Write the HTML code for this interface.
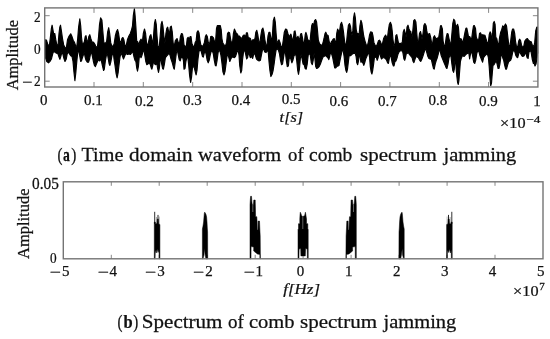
<!DOCTYPE html>
<html><head><meta charset="utf-8"><title>Comb spectrum jamming</title>
<style>html,body{margin:0;padding:0;background:#fff;}svg{display:block;}text{font-family:"Liberation Serif",serif;fill:#111;stroke:#111;stroke-width:0.25px;}</style></head><body>
<svg width="550" height="339" viewBox="0 0 550 339">
<rect width="550" height="339" fill="#fff"/>
<path d="M94.0,7.9v5M94.0,87.0v-5M143.3,7.9v5M143.3,87.0v-5M192.7,7.9v5M192.7,87.0v-5M242.0,7.9v5M242.0,87.0v-5M291.3,7.9v5M291.3,87.0v-5M340.6,7.9v5M340.6,87.0v-5M389.9,7.9v5M389.9,87.0v-5M439.3,7.9v5M439.3,87.0v-5M488.6,7.9v5M488.6,87.0v-5M44.7,15.7h5M537.9,15.7h-5M44.7,48.5h5M537.9,48.5h-5M44.7,81.2h5M537.9,81.2h-5" stroke="#7a7a7a" stroke-width="0.9" fill="none"/>
<polygon points="44.6,39.8 46.5,40.1 47.8,44.3 49.3,46.2 50.6,35.4 51.4,28.4 52.1,25.2 52.9,29.6 53.7,34.1 54.8,33.5 55.7,39.2 56.7,44.3 58.0,45.5 59.0,33.5 59.8,27.1 60.5,25.2 61.4,30.9 62.5,38.5 63.7,44.9 65.0,47.5 66.3,48.1 67.5,39.8 68.8,36.6 70.7,33.8 72.0,36.6 73.3,40.5 74.5,42.4 75.8,46.2 76.8,46.2 77.7,38.5 78.6,27.1 79.8,18.8 80.7,25.8 81.5,37.3 82.4,44.3 83.5,43.6 84.5,41.1 85.2,36.6 86.0,35.7 86.9,40.5 87.9,41.7 88.8,36.6 89.8,34.7 90.8,38.5 91.9,41.7 93.6,42.4 94.9,44.3 96.2,47.5 97.5,46.2 98.5,37.3 99.5,24.5 100.6,17.9 101.9,20.1 102.8,30.9 103.8,42.4 105.1,43.6 106.6,41.7 107.6,32.2 108.7,27.7 109.7,33.5 110.7,42.4 112.1,47.5 113.4,44.9 114.0,44.9 115.3,36.0 116.5,31.5 117.6,29.6 118.6,33.5 119.7,41.1 121.0,42.4 121.9,38.5 122.9,37.5 123.9,39.8 124.8,44.9 126.1,46.2 127.4,39.8 128.6,36.6 130.3,33.5 131.6,29.6 132.5,25.8 133.3,15.6 134.4,8.6 135.1,15.6 135.9,27.1 136.7,41.1 137.7,41.7 138.8,44.9 140.1,40.5 141.1,39.2 142.3,42.4 143.3,33.5 144.5,29.0 145.6,33.5 146.6,43.6 147.7,45.5 149.0,39.8 149.9,36.0 150.9,34.7 151.9,39.8 152.9,44.9 153.7,33.5 154.5,23.3 155.4,19.5 156.3,24.5 157.0,36.0 157.9,46.2 159.2,47.5 160.1,37.3 161.1,24.5 162.0,21.4 162.9,25.8 163.9,36.0 164.9,43.6 165.9,33.5 166.8,28.4 167.7,27.1 168.7,32.2 169.6,32.8 170.3,27.1 171.3,26.1 172.3,32.2 173.2,43.6 174.5,44.9 175.3,40.5 177.0,38.5 178.3,42.4 179.5,43.6 180.4,36.6 181.5,33.5 182.5,34.1 183.4,38.5 184.0,44.9 185.3,46.2 186.3,46.8 187.2,38.5 188.1,37.3 189.1,39.8 190.1,36.6 191.0,36.6 191.9,43.6 193.2,46.2 194.2,46.8 195.2,42.4 196.1,41.1 197.0,32.2 198.0,30.7 199.0,32.8 199.9,39.8 200.8,44.9 202.1,46.2 203.3,45.5 204.4,42.4 205.4,36.6 206.3,34.7 207.3,36.6 208.2,41.7 209.2,44.9 210.1,41.1 210.7,36.6 212.0,36.3 213.5,37.9 214.5,41.7 215.6,41.1 216.5,28.4 217.3,25.6 220.3,25.6 221.2,29.6 221.9,38.5 222.8,43.0 224.1,44.9 225.4,46.2 226.6,42.4 227.5,33.5 228.5,32.2 229.6,32.8 230.5,38.5 231.3,42.4 232.6,41.7 233.4,33.5 234.4,29.0 235.5,31.5 236.4,33.5 237.5,34.1 238.5,36.6 239.5,36.0 240.6,37.9 241.9,38.3 243.2,35.4 244.5,35.0 245.5,37.9 246.4,32.8 247.4,32.8 248.3,37.9 249.5,37.9 250.4,38.5 251.5,42.4 252.7,39.8 254.0,39.8 255.0,38.5 255.8,32.2 256.8,30.3 257.8,34.7 258.8,41.7 259.9,42.4 261.0,34.7 261.9,29.6 262.9,28.1 263.9,32.2 264.9,39.8 266.1,46.2 267.0,44.9 268.0,36.0 269.0,32.2 269.9,32.2 270.8,37.9 271.6,42.4 272.5,33.5 273.3,20.7 274.4,17.2 275.3,22.0 276.1,33.5 276.9,42.4 277.9,41.7 278.9,39.8 280.0,42.4 281.0,46.2 282.3,46.8 283.3,39.8 284.3,32.2 285.6,29.0 286.8,29.6 287.9,33.5 289.0,36.6 290.0,35.4 290.9,34.1 291.8,37.3 292.6,42.4 293.5,37.3 294.2,31.5 295.0,30.9 295.7,34.7 296.5,41.1 297.3,37.3 298.0,36.3 299.1,39.8 299.8,38.5 300.6,34.1 301.6,33.5 302.6,38.5 303.4,43.6 304.4,42.4 305.2,34.7 305.9,32.4 306.9,35.4 307.7,39.8 309.0,40.5 310.0,42.4 310.8,33.5 311.7,25.8 312.5,23.5 313.6,25.2 314.6,20.7 315.6,19.5 316.6,22.0 317.4,29.6 318.3,39.8 319.5,43.6 321.2,45.5 322.5,44.3 323.4,41.1 324.0,38.5 325.0,33.5 325.8,32.2 326.8,34.7 328.1,35.4 329.1,41.1 330.1,44.9 331.4,41.7 332.3,40.5 333.2,39.2 334.2,38.5 335.2,42.4 336.1,41.1 336.7,33.5 337.6,29.0 338.6,30.9 339.5,31.5 340.5,24.5 341.6,22.3 342.6,25.8 343.5,32.2 344.4,39.8 345.4,45.5 346.4,43.6 347.4,33.5 348.4,25.2 349.5,23.5 350.5,26.5 351.2,32.2 352.0,35.4 352.8,30.9 353.5,18.2 354.5,12.8 355.4,18.2 356.2,29.6 357.1,33.5 358.1,33.5 359.0,36.0 359.9,25.8 360.9,20.3 361.9,23.3 362.8,29.6 363.7,36.0 365.0,41.1 366.3,44.9 367.5,45.5 368.5,41.1 369.6,34.7 370.6,31.9 372.1,32.2 373.0,36.0 373.9,42.4 375.2,45.5 376.4,46.2 377.5,43.6 378.5,40.8 379.5,40.1 380.5,41.7 381.5,44.9 382.5,43.6 383.6,38.5 384.6,36.6 385.6,35.0 386.6,37.3 387.4,38.5 388.3,30.9 389.3,24.5 390.4,22.3 391.5,25.2 392.2,30.9 393.0,39.8 394.0,46.2 395.0,43.6 395.9,35.4 396.8,34.7 397.6,38.5 398.5,43.0 399.7,43.6 401.0,43.4 402.3,42.4 403.2,32.2 404.2,29.4 405.2,32.8 406.1,37.3 407.0,27.1 408.0,25.2 409.0,29.0 409.9,30.9 410.8,31.5 411.8,38.5 412.8,30.9 413.7,20.7 414.7,19.5 415.9,22.0 416.7,32.2 417.5,41.1 418.4,43.0 419.5,33.5 420.5,31.5 421.4,35.4 422.0,39.2 423.0,33.5 423.9,25.2 424.9,23.5 426.1,25.8 426.8,30.9 427.7,35.4 428.6,34.1 429.6,33.5 430.7,37.3 431.5,42.4 432.4,44.9 433.5,37.3 434.5,35.7 435.5,37.9 436.5,39.2 437.5,37.9 438.5,38.5 439.6,32.2 440.5,25.8 441.3,25.6 442.4,29.0 443.1,41.1 444.1,46.2 445.2,44.9 446.2,37.3 447.2,33.5 448.1,34.1 449.0,38.5 450.0,43.0 451.0,43.6 451.9,33.5 452.8,23.3 453.8,19.2 454.8,20.7 455.7,27.1 456.6,25.8 457.6,24.3 458.4,27.1 459.2,37.3 459.9,39.8 460.8,38.5 461.7,39.8 462.7,43.6 464.0,37.3 465.0,32.2 465.9,28.4 466.8,28.1 467.8,32.8 468.6,37.3 469.7,36.6 470.6,38.5 471.6,39.2 472.7,30.9 473.5,25.8 474.4,25.6 475.5,28.4 476.3,37.3 477.4,39.8 478.6,40.5 479.5,33.5 480.5,32.8 481.6,35.4 482.6,34.7 483.7,35.0 485.0,35.4 485.9,38.5 486.9,41.7 488.2,43.6 489.2,34.7 490.1,31.9 491.0,33.5 491.7,42.4 492.6,33.5 493.3,23.3 494.2,21.4 495.1,24.5 495.8,37.3 496.8,38.5 497.7,43.6 498.6,45.5 499.6,37.3 500.7,32.2 501.7,29.6 502.7,25.8 503.7,27.1 504.5,25.8 505.5,23.9 506.5,25.8 507.3,32.2 508.0,38.5 508.8,44.9 509.8,46.8 510.8,39.8 511.7,32.2 512.6,29.0 513.6,29.0 514.7,33.5 515.5,41.1 516.4,46.2 517.7,46.8 518.7,41.1 519.6,39.2 520.6,40.5 521.5,44.9 522.5,47.5 523.8,46.2 524.8,41.1 526.1,39.2 527.4,38.5 528.7,40.5 529.9,41.3 531.2,41.7 532.2,44.9 533.4,46.2 534.0,46.2 534.7,42.4 535.7,30.9 536.8,27.1 537.5,27.1 537.7,52.6 537.0,57.7 536.0,64.1 535.0,66.0 534.0,62.8 533.4,63.5 532.2,59.0 531.2,52.6 530.2,50.1 528.9,52.6 528.1,58.4 527.1,57.7 526.1,53.9 525.1,53.3 524.1,55.8 522.8,56.5 521.8,55.8 520.8,53.9 519.7,51.4 518.7,53.9 517.7,57.7 516.7,57.1 515.7,55.2 514.7,51.4 513.6,50.1 512.6,52.6 511.6,57.7 510.6,60.3 509.6,60.9 508.5,62.2 507.5,65.4 506.5,69.2 505.7,69.2 504.7,65.4 503.7,60.3 502.7,57.7 501.7,53.3 500.9,56.5 499.9,64.1 499.0,68.5 498.1,68.5 497.1,64.1 496.1,60.3 495.1,62.8 494.0,64.7 493.0,65.4 492.3,73.0 491.5,83.2 490.7,85.7 490.0,78.1 489.2,66.6 488.4,57.7 487.4,53.9 486.1,54.5 484.9,55.8 483.6,57.7 482.6,62.2 481.8,60.3 480.8,57.7 479.8,55.2 478.8,51.4 477.7,50.7 476.7,53.9 475.7,60.3 474.7,63.5 473.7,62.2 472.7,56.5 471.6,51.4 470.6,53.3 469.6,59.0 468.8,52.6 467.8,53.3 466.5,53.9 465.3,55.2 464.0,56.5 462.7,55.2 461.5,57.7 460.4,61.5 459.7,70.5 458.9,80.6 458.3,84.5 457.6,82.5 456.9,76.8 456.1,67.9 455.5,59.0 454.8,61.5 454.3,69.2 453.6,72.4 452.8,70.5 451.9,64.1 451.0,56.5 450.0,55.2 449.0,57.7 448.0,64.1 446.9,68.5 446.2,67.9 445.2,65.4 444.1,62.8 443.1,60.3 442.1,57.7 441.1,55.2 440.1,50.7 439.2,50.1 438.3,53.9 437.3,57.7 436.3,60.3 435.2,64.1 434.2,69.2 433.5,68.5 432.4,64.1 431.4,59.6 430.1,59.0 428.9,58.4 427.9,56.5 426.8,52.6 425.8,48.8 424.8,50.1 423.8,53.3 422.8,56.5 421.7,59.6 420.7,61.5 419.7,60.3 418.4,57.7 417.2,57.1 415.9,56.5 414.9,59.6 413.9,62.6 413.1,61.5 412.1,57.7 411.1,56.5 410.0,55.2 409.0,53.9 408.3,52.0 407.4,53.3 406.2,53.9 405.5,57.7 404.7,60.3 403.9,59.0 402.9,52.6 401.9,50.7 400.6,50.7 399.3,51.4 398.1,53.9 397.1,57.7 396.0,60.9 395.0,61.5 394.0,66.0 393.4,66.0 392.2,62.8 391.2,57.7 390.2,54.5 389.2,59.0 388.4,63.5 387.6,62.8 386.6,60.3 385.3,58.4 384.1,57.7 382.8,57.7 381.5,59.0 380.6,56.5 379.7,52.6 379.0,53.9 378.1,57.7 377.2,60.3 376.4,57.7 375.4,57.1 374.4,57.7 373.6,64.1 372.7,70.5 371.9,74.0 371.1,71.7 370.3,66.6 369.6,57.7 368.8,52.6 367.8,53.9 366.8,56.5 365.7,59.0 364.7,62.8 363.8,65.4 362.8,62.8 361.9,61.5 360.9,62.2 360.1,56.5 359.4,53.9 358.6,60.3 357.7,64.7 356.8,62.8 356.1,56.5 355.2,53.3 353.9,53.3 352.5,53.9 351.2,55.2 350.2,55.8 349.2,55.2 348.4,61.5 347.5,69.2 346.7,72.4 345.9,70.5 345.0,65.4 344.1,56.5 343.1,50.1 342.1,50.7 341.1,55.2 340.0,60.3 339.0,65.4 338.0,66.0 336.7,66.6 335.7,67.9 334.7,67.9 333.7,62.8 332.7,57.7 331.6,53.9 330.6,52.0 329.7,56.5 328.8,59.6 327.8,57.7 326.5,56.5 325.3,55.2 324.0,56.5 323.0,57.1 321.7,60.3 320.4,64.1 319.2,66.6 317.9,67.9 316.6,68.5 315.7,66.6 314.8,57.7 314.1,53.3 313.2,60.3 312.3,64.7 311.3,62.8 310.3,55.2 309.2,53.3 308.2,55.2 307.2,64.1 306.2,69.2 305.2,68.5 304.1,64.7 303.1,64.1 302.1,59.0 301.1,54.5 300.3,59.0 299.4,69.2 298.5,74.3 297.7,70.5 296.8,61.5 296.0,55.2 295.0,54.5 294.0,55.8 292.9,60.3 291.9,62.8 291.2,60.3 290.1,56.5 289.1,59.0 288.4,66.0 287.3,66.6 286.3,60.3 285.4,52.6 284.5,51.4 283.5,57.7 282.5,64.1 281.5,64.7 280.5,60.3 279.5,53.9 278.4,50.1 277.2,48.8 276.1,50.1 275.1,56.5 274.1,64.1 273.1,70.5 272.1,74.3 270.9,76.6 269.9,70.5 269.0,61.5 268.3,52.6 267.4,50.1 266.1,52.6 264.8,52.0 263.5,48.8 262.4,50.1 261.4,55.2 260.4,60.3 259.1,60.9 257.8,60.3 256.5,59.0 255.3,55.2 254.0,52.6 252.7,58.4 251.5,56.5 250.4,57.7 249.5,55.2 248.7,51.4 247.6,57.7 246.6,59.0 245.6,53.9 244.6,50.1 243.6,51.4 242.5,60.3 241.7,70.5 240.8,73.0 239.7,65.4 239.0,55.2 238.1,50.1 236.8,52.6 235.5,56.5 234.3,57.7 233.0,57.1 231.9,57.1 230.8,59.0 229.8,61.5 228.8,57.7 227.9,53.9 227.0,56.5 226.0,64.1 225.0,71.7 224.0,74.9 222.9,71.7 221.9,62.8 220.9,55.2 220.0,51.4 219.0,50.1 218.1,52.6 217.1,60.3 216.1,66.0 215.3,65.4 214.3,60.3 213.3,53.9 212.3,50.7 211.2,51.4 210.2,55.2 209.2,60.3 208.2,62.8 207.2,60.3 206.3,55.2 205.4,51.4 204.4,52.6 203.3,57.1 202.5,56.5 201.2,51.4 199.9,49.5 199.0,51.4 198.0,59.0 197.0,70.5 196.1,74.9 195.2,71.7 194.2,67.3 193.2,66.6 192.4,67.9 191.6,76.8 190.6,82.5 189.6,75.5 188.6,64.1 187.8,57.1 186.8,57.7 185.9,61.5 185.0,68.5 184.0,69.2 183.4,60.3 182.5,57.1 181.2,57.7 180.2,60.9 179.2,59.6 178.3,55.2 177.3,50.1 176.4,52.6 175.3,61.5 174.3,69.2 173.6,67.9 172.3,62.8 171.0,59.0 170.0,55.2 169.0,52.6 168.1,54.5 166.8,55.8 165.4,57.7 164.4,64.1 163.4,69.2 162.6,68.5 161.7,64.1 160.8,57.7 160.2,59.0 159.4,67.9 158.5,72.4 157.5,67.9 156.8,62.8 155.7,64.7 154.7,64.1 153.7,60.9 152.8,65.4 151.9,69.2 151.2,67.9 150.3,64.7 149.0,62.8 147.9,64.1 146.8,64.7 145.8,61.5 144.8,55.2 143.9,50.1 143.0,51.4 142.0,55.2 141.0,57.7 140.0,55.2 139.2,57.7 138.4,66.6 137.5,71.1 136.7,67.9 135.9,61.5 135.0,60.3 133.9,56.5 132.8,51.4 131.8,52.6 130.5,54.5 129.0,53.9 127.4,54.5 126.1,53.3 124.8,55.8 123.5,59.0 122.3,55.8 121.1,52.6 120.1,56.5 119.1,64.1 118.1,73.0 117.1,77.8 116.0,73.0 115.0,65.4 114.0,59.0 113.4,53.3 112.1,55.2 110.9,61.5 109.9,65.4 109.2,64.1 108.3,59.0 107.3,53.3 106.4,55.2 105.3,61.5 104.3,69.2 103.6,70.5 102.5,66.0 101.5,61.5 100.5,59.0 99.5,60.9 98.5,59.6 97.5,61.5 96.4,64.1 95.4,66.6 94.4,65.4 93.4,61.5 92.4,56.5 91.3,51.4 90.5,53.9 89.6,59.0 88.5,62.2 87.3,62.2 86.0,60.3 85.0,56.5 84.2,52.0 83.5,54.5 82.4,57.7 81.5,60.9 80.7,61.5 79.6,55.2 78.6,50.1 77.7,52.6 76.8,61.5 75.8,73.0 74.9,80.6 73.9,71.7 73.0,61.5 72.0,56.5 70.7,55.8 69.5,53.9 68.2,52.0 67.2,53.9 66.3,59.0 65.0,61.5 63.7,57.7 62.8,53.9 61.8,52.6 60.8,56.5 59.9,59.3 59.0,57.1 58.0,53.9 56.7,53.3 55.2,52.6 53.9,50.7 52.7,53.9 51.4,59.0 50.1,61.3 48.5,62.8 46.8,61.5 45.5,57.7 44.6,52.6" fill="#000" stroke="#000" stroke-width="1.15" stroke-linejoin="round"/>
<rect x="44.7" y="7.9" width="493.2" height="79.1" fill="none" stroke="#747474" stroke-width="1.4"/>
<text transform="translate(33.90,21.8) scale(0.8857,1)" font-size="15">2</text>
<text transform="translate(33.90,54.3) scale(0.8857,1)" font-size="15">0</text>
<text transform="translate(21.90,86.9) scale(1.2125,1)" font-size="15">−</text>
<text transform="translate(33.90,86.1) scale(0.8857,1)" font-size="15">2</text>
<text x="39.90" y="104.6" font-size="15">0</text>
<text x="83.88" y="104.7" font-size="15">0.1</text>
<text x="134.88" y="106.2" font-size="15">0.2</text>
<text x="182.88" y="105" font-size="15">0.3</text>
<text x="231.57" y="105" font-size="15">0.4</text>
<text x="281.68" y="104.2" font-size="15">0.5</text>
<text x="329.38" y="106.2" font-size="15">0.6</text>
<text x="377.88" y="106.2" font-size="15">0.7</text>
<text x="428.38" y="104.6" font-size="15">0.8</text>
<text x="478.88" y="106.2" font-size="15">0.9</text>
<text x="533.20" y="105.6" font-size="15">1</text>
<text transform="translate(279.60,122.4) scale(1.0652,1)" font-size="15.3" font-style="italic">t[s]</text>
<text transform="translate(500.12,128.3) scale(1.0838,1)" font-size="15">×10</text>
<text transform="translate(526.40,122.6) scale(1.3158,1)" font-size="10">−4</text>
<text transform="translate(17.9,90.30) rotate(-90) scale(0.9899,1)" font-size="16.6">Amplitude</text>
<text transform="translate(57.40,161) scale(0.8000,1)" font-size="18.7">(</text>
<text transform="translate(62.90,161) scale(0.7300,1)" font-size="18.7" font-weight="bold">a</text>
<text transform="translate(71.20,161) scale(0.8167,1)" font-size="18.7">)</text>
<text transform="translate(81.50,161) scale(1.0783,1)" font-size="18.7">Time</text>
<text transform="translate(129.00,161) scale(1.1321,1)" font-size="18.7">domain</text>
<text transform="translate(198.00,161) scale(1.0969,1)" font-size="18.7">waveform</text>
<text transform="translate(288.00,161) scale(1.0034,1)" font-size="18.7">of</text>
<text transform="translate(309.00,161) scale(1.0444,1)" font-size="18.7">comb</text>
<text transform="translate(360.00,161) scale(1.1223,1)" font-size="18.7">spectrum</text>
<text transform="translate(443.50,161) scale(1.0970,1)" font-size="18.7">jamming</text>
<path d="M111.3,181.8v4M111.3,258.8v-4M159.2,181.8v4M159.2,258.8v-4M207.2,181.8v4M207.2,258.8v-4M255.2,181.8v4M255.2,258.8v-4M303.1,181.8v4M303.1,258.8v-4M351.1,181.8v4M351.1,258.8v-4M399.1,181.8v4M399.1,258.8v-4M447.1,181.8v4M447.1,258.8v-4M495.0,181.8v4M495.0,258.8v-4" stroke="#7a7a7a" stroke-width="0.9" fill="none"/>
<polygon points="154.3,258.8 154.3,222.0 155.3,222.0 155.6,224.0 157.0,223.5 157.3,219.0 158.3,219.0 158.6,224.0 159.9,224.5 159.9,258.8 159.2,258.8 159.0,250.0 158.0,252.5 157.2,249.0 156.2,253.0 155.3,250.0 155.1,258.8" fill="#000" stroke="#000" stroke-width="0.5" stroke-linejoin="round"/>
<line x1="154.7" y1="211.8" x2="154.7" y2="224.0" stroke="#000" stroke-width="0.9" stroke-opacity="0.9"/>
<line x1="158.0" y1="214.9" x2="158.0" y2="224.0" stroke="#000" stroke-width="1.0" stroke-opacity="0.85"/>
<line x1="156.4" y1="217.0" x2="156.4" y2="224.0" stroke="#000" stroke-width="0.8" stroke-opacity="0.45"/>
<line x1="159.4" y1="216.5" x2="159.4" y2="224.0" stroke="#000" stroke-width="0.7" stroke-opacity="0.4"/>
<polygon points="452.2,258.8 452.2,222.0 451.2,222.0 450.9,224.0 449.5,223.5 449.2,219.0 448.2,219.0 447.9,224.0 446.6,224.5 446.6,258.8 447.3,258.8 447.5,250.0 448.5,252.5 449.3,249.0 450.3,253.0 451.2,250.0 451.4,258.8" fill="#000" stroke="#000" stroke-width="0.5" stroke-linejoin="round"/>
<line x1="451.8" y1="211.8" x2="451.8" y2="224.0" stroke="#000" stroke-width="0.9" stroke-opacity="0.9"/>
<line x1="448.5" y1="214.9" x2="448.5" y2="224.0" stroke="#000" stroke-width="1.0" stroke-opacity="0.85"/>
<line x1="450.1" y1="217.0" x2="450.1" y2="224.0" stroke="#000" stroke-width="0.8" stroke-opacity="0.45"/>
<line x1="447.1" y1="216.5" x2="447.1" y2="224.0" stroke="#000" stroke-width="0.7" stroke-opacity="0.4"/>
<polygon points="202.4,258.8 202.4,229.0 203.0,226.0 203.6,222.0 204.0,217.0 204.3,213.5 204.6,212.2 205.2,212.8 206.0,214.5 206.6,217.0 207.0,222.0 207.3,228.0 207.6,232.0 207.7,258.8 205.9,258.8 205.2,255.0 204.3,248.5 204.0,255.0 203.0,258.8" fill="#000" stroke="#000" stroke-width="0.5" stroke-linejoin="round"/>
<polygon points="404.2,258.8 404.2,229.0 403.6,226.0 403.0,222.0 402.6,217.0 402.3,213.5 402.0,212.2 401.4,212.8 400.6,214.5 400.0,217.0 399.6,222.0 399.3,228.0 399.0,232.0 398.9,258.8 400.7,258.8 401.4,255.0 402.3,248.5 402.6,255.0 403.6,258.8" fill="#000" stroke="#000" stroke-width="0.5" stroke-linejoin="round"/>
<polygon points="298.0,258.8 298.0,229.5 298.5,229.0 298.5,223.7 299.8,223.7 299.8,219.0 300.0,215.0 300.3,212.2 300.9,213.5 301.6,215.7 302.8,216.5 304.6,215.7 305.1,213.5 305.4,212.2 305.9,215.0 306.5,219.0 306.5,223.7 307.8,223.7 307.8,229.0 308.2,229.5 308.2,258.8 307.4,258.8 307.2,249.0 305.6,248.4 305.3,255.9 300.9,255.9 300.7,248.4 299.1,249.0 298.9,258.8" fill="#000" stroke="#000" stroke-width="0.5" stroke-linejoin="round"/>
<line x1="302.8" y1="216.5" x2="302.8" y2="229.0" stroke="#fff" stroke-width="0.7" stroke-opacity="0.55"/>
<polygon points="250.0,258.8 250.0,205.0 250.3,200.0 250.6,196.3 251.5,196.3 251.9,202.0 252.3,204.8 253.4,204.8 253.8,200.0 255.2,200.0 255.4,207.0 255.6,216.7 256.8,216.7 257.1,222.0 257.3,230.0 258.0,230.0 258.2,221.1 259.5,221.1 259.8,228.0 260.2,236.0 260.4,258.8 259.9,258.8 259.9,254.5 257.4,254.0 253.7,251.0 253.7,247.0 251.1,246.6 251.0,258.8" fill="#000" stroke="#000" stroke-width="0.5" stroke-linejoin="round"/>
<line x1="252.8" y1="204.8" x2="252.8" y2="212.0" stroke="#fff" stroke-width="0.8" stroke-opacity="0.5"/>
<polygon points="356.3,258.8 356.3,205.0 356.0,200.0 355.7,196.3 354.8,196.3 354.4,202.0 354.0,204.8 352.9,204.8 352.5,200.0 351.1,200.0 350.9,207.0 350.7,216.7 349.5,216.7 349.2,222.0 349.0,230.0 348.3,230.0 348.1,221.1 346.8,221.1 346.5,228.0 346.1,236.0 345.9,258.8 346.4,258.8 346.4,254.5 348.9,254.0 352.6,251.0 352.6,247.0 355.2,246.6 355.3,258.8" fill="#000" stroke="#000" stroke-width="0.5" stroke-linejoin="round"/>
<line x1="353.5" y1="204.8" x2="353.5" y2="212.0" stroke="#fff" stroke-width="0.8" stroke-opacity="0.5"/>
<rect x="63.3" y="181.8" width="479.7" height="77.0" fill="none" stroke="#747474" stroke-width="1.4"/>
<text transform="translate(32.00,188.6) scale(0.9695,1)" font-size="15.8">0.05</text>
<text transform="translate(50.10,262.8) scale(0.8857,1)" font-size="15">0</text>
<text transform="translate(49.40,276.5) scale(1.3250,1)" font-size="15">−</text>
<text x="62.00" y="275.7" font-size="15">5</text>
<text transform="translate(97.40,276.5) scale(1.3250,1)" font-size="15">−</text>
<text x="109.50" y="275.7" font-size="15">4</text>
<text transform="translate(144.70,276.5) scale(1.3250,1)" font-size="15">−</text>
<text x="157.30" y="275.7" font-size="15">3</text>
<text transform="translate(192.70,276.5) scale(1.3250,1)" font-size="15">−</text>
<text x="205.30" y="275.7" font-size="15">2</text>
<text transform="translate(243.40,276.5) scale(1.3250,1)" font-size="15">−</text>
<text x="255.50" y="275.7" font-size="15">1</text>
<text x="296.80" y="275.7" font-size="15">0</text>
<text x="345.00" y="275.7" font-size="15">1</text>
<text x="393.00" y="275.7" font-size="15">2</text>
<text x="441.00" y="275.7" font-size="15">3</text>
<text x="488.80" y="275.7" font-size="15">4</text>
<text x="537.00" y="275.7" font-size="15">5</text>
<text transform="translate(283.30,293.6) scale(1.1293,1)" font-size="15" font-style="italic">f[Hz]</text>
<text transform="translate(513.12,295.8) scale(1.0838,1)" font-size="15">×10</text>
<text transform="translate(539.20,290.4) scale(1.0400,1)" font-size="10.5">7</text>
<text transform="translate(28.7,258.90) rotate(-90) scale(0.9913,1)" font-size="16.6">Amplitude</text>
<text transform="translate(117.40,327.6) scale(0.8000,1)" font-size="18.7">(</text>
<text transform="translate(123.40,327.6) scale(0.8800,1)" font-size="18.7" font-weight="bold">b</text>
<text transform="translate(133.20,327.6) scale(0.8000,1)" font-size="18.7">)</text>
<text transform="translate(141.87,327.6) scale(1.1254,1)" font-size="18.7">Spectrum</text>
<text transform="translate(228.00,327.6) scale(1.0157,1)" font-size="18.7">of</text>
<text transform="translate(249.00,327.6) scale(1.0978,1)" font-size="18.7">comb</text>
<text transform="translate(300.00,327.6) scale(1.1252,1)" font-size="18.7">spectrum</text>
<text transform="translate(383.50,327.6) scale(1.0970,1)" font-size="18.7">jamming</text>
</svg></body></html>
